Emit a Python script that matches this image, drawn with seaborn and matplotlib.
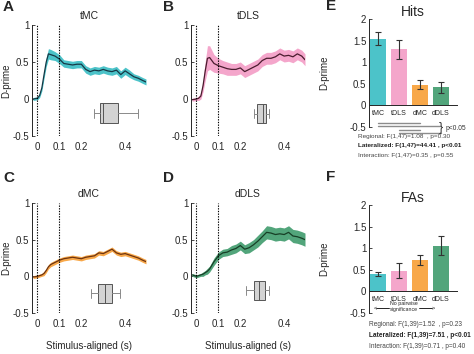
import numpy as np
import seaborn as sns
import matplotlib.pyplot as plt

# time base (s) shared by the four traces
time_s = [-0.02, 0.00, 0.01, 0.02, 0.03, 0.04, 0.05, 0.06, 0.08, 0.10,
          0.12, 0.14, 0.16, 0.18, 0.20, 0.22, 0.24, 0.26, 0.28, 0.30,
          0.32, 0.34, 0.36, 0.38, 0.40, 0.42, 0.44, 0.46, 0.48, 0.495]

tmc_mean = [0.00, 0.01, 0.05, 0.15, 0.33, 0.50, 0.61, 0.60, 0.58, 0.54,
            0.48, 0.47, 0.46, 0.47, 0.47, 0.40, 0.37, 0.39, 0.38, 0.40,
            0.38, 0.37, 0.39, 0.33, 0.38, 0.34, 0.30, 0.28, 0.25, 0.23]
tmc_sem = [0.02, 0.02, 0.03, 0.04, 0.05, 0.06, 0.07, 0.07, 0.06, 0.06,
           0.05, 0.05, 0.05, 0.05, 0.05, 0.05, 0.05, 0.05, 0.05, 0.05,
           0.05, 0.05, 0.05, 0.05, 0.05, 0.05, 0.04, 0.04, 0.04, 0.04]

tdls_mean = [-0.01, 0.00, 0.01, 0.04, 0.18, 0.38, 0.55, 0.56, 0.48, 0.45,
             0.43, 0.41, 0.40, 0.40, 0.42, 0.37, 0.40, 0.43, 0.46, 0.52,
             0.55, 0.55, 0.57, 0.61, 0.58, 0.59, 0.57, 0.61, 0.58, 0.53]
tdls_sem = [0.02, 0.02, 0.03, 0.04, 0.08, 0.13, 0.17, 0.16, 0.12, 0.10,
            0.09, 0.09, 0.08, 0.08, 0.08, 0.08, 0.08, 0.08, 0.08, 0.08,
            0.08, 0.08, 0.08, 0.08, 0.08, 0.08, 0.08, 0.08, 0.08, 0.08]

dmc_mean = [-0.01, 0.00, 0.01, 0.02, 0.04, 0.08, 0.13, 0.16, 0.19, 0.22,
            0.24, 0.25, 0.26, 0.25, 0.24, 0.26, 0.27, 0.28, 0.32, 0.31,
            0.34, 0.37, 0.32, 0.30, 0.31, 0.29, 0.27, 0.25, 0.22, 0.20]
dmc_sem = [0.02, 0.02, 0.02, 0.02, 0.03, 0.03, 0.03, 0.03, 0.03, 0.03,
           0.03, 0.03, 0.03, 0.03, 0.03, 0.03, 0.03, 0.03, 0.03, 0.03,
           0.03, 0.03, 0.03, 0.03, 0.03, 0.03, 0.03, 0.03, 0.03, 0.03]

ddls_mean = [0.02, 0.00, 0.01, 0.02, 0.03, 0.05, 0.07, 0.10, 0.20, 0.28,
             0.32, 0.33, 0.36, 0.38, 0.42, 0.37, 0.39, 0.43, 0.48, 0.54,
             0.60, 0.59, 0.57, 0.58, 0.57, 0.60, 0.55, 0.54, 0.52, 0.50]
ddls_sem = [0.02, 0.02, 0.02, 0.02, 0.03, 0.03, 0.04, 0.04, 0.05, 0.05,
            0.05, 0.05, 0.06, 0.06, 0.06, 0.06, 0.07, 0.07, 0.08, 0.08,
            0.09, 0.09, 0.09, 0.09, 0.09, 0.09, 0.09, 0.09, 0.09, 0.09]

# inset box plots, one per trace panel
box_whislo = [0.259, 0.264, 0.245, 0.227]
box_q1 = [0.286, 0.277, 0.277, 0.264]
box_med = [0.300, 0.305, 0.309, 0.286]
box_q3 = [0.368, 0.318, 0.341, 0.314]
box_whishi = [0.459, 0.332, 0.377, 0.332]
box_y = [-0.19, -0.20, -0.23, -0.19]

event_times = [0.0, 0.1]

regions = ['tMC', 'tDLS', 'dMC', 'dDLS']
region_colors = ['#4cc3c9', '#f4a6cb', '#f8a849', '#52a57b']
line_colors = ['#163845', '#4a1c2e', '#6e3410', '#173f26']

hits_mean = [1.54, 1.30, 0.48, 0.42]
hits_err = [0.15, 0.22, 0.10, 0.13]
fas_mean = [0.41, 0.48, 0.73, 1.06]
fas_err = [0.05, 0.18, 0.11, 0.22]

hits_sig_pairs = [(0, 2), (0, 3), (1, 2), (1, 3)]

hits_stats = ['Regional: F(1,47)=1.08  , p=0.30',
              'Lateralized: F(1,47)=44.41 , p<0.01',
              'Interaction: F(1,47)=0.35 , p=0.55']
fas_stats = ['Regional: F(1,39)=1.52  , p=0.23',
             'Lateralized: F(1,39)=7.51 , p<0.01',
             'Interaction: F(1,39)=0.71 , p=0.40']

sns.set_style('ticks')
plt.rcParams['font.family'] = ['Liberation Sans', 'DejaVu Sans']

W, H = 474, 354
fig = plt.figure(figsize=(W / 100, H / 100), dpi=100)


def rect(left, top, right, bottom):
    return [left / W, 1 - bottom / H, (right - left) / W, (bottom - top) / H]


def fxy(x, y):
    return x / W, 1 - y / H


def trace_panel(ax, mean, sem, i, title, show_ylabel, show_xlabel):
    m = np.array(mean)
    s = np.array(sem)
    ax.fill_between(time_s, m - s, m + s, color=region_colors[i], lw=0)
    sns.lineplot(x=time_s, y=mean, ax=ax, color=line_colors[i], lw=0.9)
    for t0 in event_times:
        ax.axvline(t0, color='k', ls=(0, (1.2, 1.2)), lw=0.8)
    stats = [dict(whislo=box_whislo[i], q1=box_q1[i], med=box_med[i],
                  q3=box_q3[i], whishi=box_whishi[i])]
    ax.bxp(stats, positions=[box_y[i]], orientation='horizontal', widths=0.26,
           capwidths=0.12, showfliers=False, patch_artist=True, manage_ticks=False,
           boxprops=dict(facecolor='#d3d3d3', edgecolor='#555555', lw=0.7),
           medianprops=dict(color='#555555', lw=0.7),
           whiskerprops=dict(color='#8a8a8a', lw=0.7),
           capprops=dict(color='#8a8a8a', lw=0.7))
    ax.set_xlim(-0.025, 0.495)
    ax.set_ylim(-0.5, 1)
    ax.set_xticks([0, 0.1, 0.2, 0.4])
    ax.set_xticklabels(['0', '0.1', '0.2', '0.4'])
    ax.set_yticks([-0.5, 0, 0.5, 1])
    ax.set_yticklabels(['-0.5', '0', '0.5', '1'])
    ax.tick_params(axis='x', length=0, labelsize=7, pad=4)
    ax.tick_params(axis='y', direction='in', length=2, labelsize=7, pad=2, width=0.6)
    for side in ['top', 'right', 'bottom']:
        ax.spines[side].set_visible(False)
    ax.spines['left'].set_linewidth(0.7)
    ax.set_title(title, fontsize=7.5, pad=4)
    ax.set_xlabel('Stimulus-aligned (s)' if show_xlabel else '', fontsize=7, labelpad=9)
    ax.set_ylabel('D-prime' if show_ylabel else '', fontsize=7)
    ax.yaxis.set_label_coords(-0.18, 0.5)


def bar_panel(ax, mean, err, title):
    sns.barplot(x=regions, y=mean, hue=regions, palette=region_colors,
                saturation=1, width=0.76, legend=False, ax=ax, lw=0)
    ax.errorbar(range(len(regions)), mean, yerr=err, fmt='none',
                ecolor='#333333', elinewidth=0.8, capsize=2, capthick=0.8)
    ax.set_xlim(-0.43, 3.76)
    ax.set_ylim(-0.5, 2)
    ax.set_yticks([-0.5, 0, 0.5, 1, 1.5, 2])
    ax.set_yticklabels(['-0.5', '0', '0.5', '1', '1.5', '2'])
    ax.spines['bottom'].set_position(('data', 0))
    for side in ['top', 'right']:
        ax.spines[side].set_visible(False)
    ax.spines['left'].set_linewidth(0.7)
    ax.spines['bottom'].set_linewidth(0.7)
    ax.tick_params(axis='x', length=0, labelsize=5, pad=3)
    ax.tick_params(axis='y', direction='in', length=2, labelsize=7, pad=2, width=0.6)
    ax.set_title(title, fontsize=10, pad=2)
    ax.set_ylabel('D-prime', fontsize=7)
    ax.yaxis.set_label_coords(-0.45, 0.5)


ax_a = fig.add_axes(rect(32, 25, 146, 136))
ax_b = fig.add_axes(rect(191, 25, 305, 136))
ax_c = fig.add_axes(rect(32, 203, 146, 313))
ax_d = fig.add_axes(rect(191, 203, 305, 313))
ax_e = fig.add_axes(rect(369, 19, 457, 127))
ax_f = fig.add_axes(rect(369, 205, 457, 313))

trace_panel(ax_a, tmc_mean, tmc_sem, 0, 'tMC', True, False)
trace_panel(ax_b, tdls_mean, tdls_sem, 1, 'tDLS', False, False)
trace_panel(ax_c, dmc_mean, dmc_sem, 2, 'dMC', True, True)
trace_panel(ax_d, ddls_mean, ddls_sem, 3, 'dDLS', False, True)
bar_panel(ax_e, hits_mean, hits_err, 'Hits')
bar_panel(ax_f, fas_mean, fas_err, 'FAs')

# pairwise significance lines under the Hits bars
sig_levels = [-0.40, -0.48, -0.56, -0.64]
for (a, b), lev in zip(hits_sig_pairs, sig_levels):
    ax_e.plot([a, b], [lev, lev], color='#8c8c8c', lw=1, clip_on=False)
fig.text(*fxy(439, 128), '}', fontsize=9, va='center', ha='left', color='#333333')
fig.text(*fxy(446, 129), 'p<0.05', fontsize=4.8, va='center', ha='left', color='#333333')

# no pairwise significance note under the FAs bars
fig.text(*fxy(404, 304), 'No pairwise', fontsize=3.8, ha='center', va='center')
fig.text(*fxy(404, 310), 'significance', fontsize=3.8, ha='center', va='center')
fig.add_artist(plt.Line2D([389 / W, 376 / W], [1 - 308 / H] * 2, color='k', lw=0.6))
fig.add_artist(plt.Line2D([419 / W, 432 / W], [1 - 308 / H] * 2, color='k', lw=0.6))
fig.text(*fxy(375, 308), '<', fontsize=4, ha='center', va='center')
fig.text(*fxy(433, 308), '>', fontsize=4, ha='center', va='center')

for k, line in enumerate(hits_stats):
    fig.text(*fxy(358, 137 + 9 * k), line, fontsize=4.6, va='center', ha='left',
             color='#222222' if k == 1 else '#444444',
             fontweight='bold' if k == 1 else 'normal')
for k, line in enumerate(fas_stats):
    fig.text(*fxy(369, 325 + 10.5 * k), line, fontsize=4.7, va='center', ha='left',
             color='#222222' if k == 1 else '#444444',
             fontweight='bold' if k == 1 else 'normal')

for letter, (x, y) in zip('ABCDEF', [(3, 7), (163, 7), (3, 178), (163, 178),
                                      (326, 6), (326, 177)]):
    fig.text(*fxy(x, y), letter, fontsize=11, fontweight='bold', va='center', ha='left')

fig.savefig('out.png', dpi=100)
